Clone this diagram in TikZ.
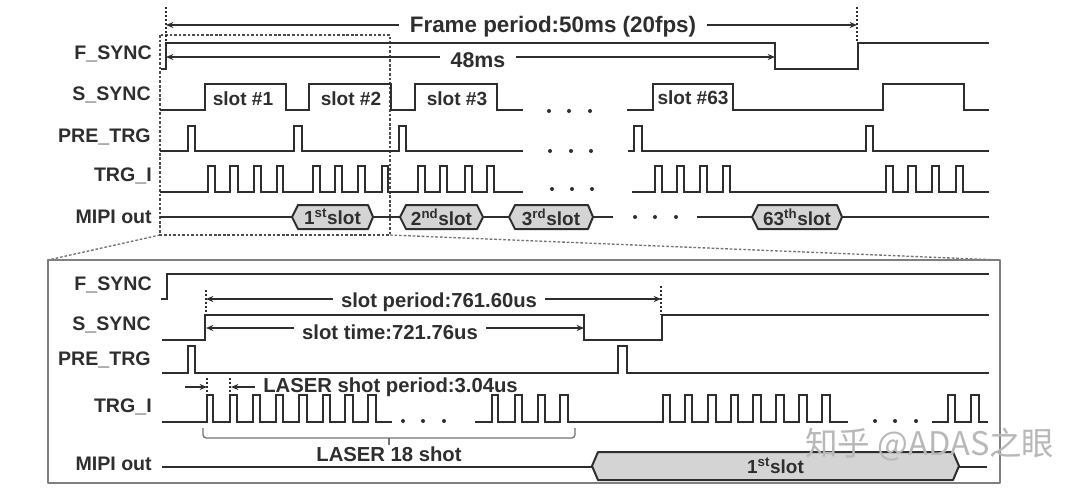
\documentclass[tikz,border=0pt]{standalone}
\usepackage{fontspec}
\setmainfont{Liberation Sans}
\newfontfamily\cjkwm{Noto Sans CJK SC}
\usetikzlibrary{arrows.meta}
\definecolor{ink}{HTML}{2E2E2E}
\newcommand{\hexa}[8]{%
  \path[hexshape] (#2,{(#6+#7)/2}) -- (#3,#6) -- (#4,#6) -- (#5,{(#6+#7)/2}) -- (#4,#7) -- (#3,#7) -- cycle;
  \node[hextext] (#1) at ({(#2+#5)/2},{(#6+#7)/2}) {#8};%
}
\tikzset{
  x=0.75pt,y=-0.75pt,
  wave/.style={draw=ink,line width=1.6pt,line join=miter},
  thinwave/.style={draw=ink,line width=1.25pt},
  hexshape/.style={draw=ink,line width=1.5pt,fill=black!17,line join=round},
  hextext/.style={text=ink,font=\bfseries\fontsize{14.2pt}{16pt}\selectfont,inner sep=0pt},
  siglabel/.style={text=ink,font=\bfseries\fontsize{14.7pt}{16pt}\selectfont,anchor=east,inner sep=0pt},
  slotlabel/.style={text=ink,font=\bfseries\fontsize{14.3pt}{16pt}\selectfont,inner sep=0pt},
  dimlabel/.style={text=ink,font=\bfseries\fontsize{15.2pt}{17pt}\selectfont,inner ysep=0pt,inner xsep=6pt},
  dimline/.style={draw=ink,line width=1.1pt,-{Stealth[length=5.5pt,width=4.5pt]}},
  vdot/.style={draw=ink,line width=0.9pt,dash pattern=on 1.5pt off 1.5pt},
  zoombox/.style={draw=black!70,line width=0.9pt,dash pattern=on 2pt off 1.4pt},
  zoomray/.style={draw=black!55,line width=1pt,dash pattern=on 2pt off 1.4pt},
  dotdot/.style={fill=ink,inner sep=0pt,minimum size=3pt,circle},
  bracket/.style={draw=black!55,line width=1pt,rounded corners=2.5pt},
}
\begin{document}
\begin{tikzpicture}
\useasboundingbox[fill=white] (0,0) rectangle (1080,490);

% --- upper panel: dashed selection and rays to the detail panel
\coordinate (selTL) at (160,35);
\coordinate (selBR) at (390,235);
\coordinate (selBL) at (160,235);
\coordinate (detTL) at (48,260);
\coordinate (detBR) at (1000,483);
\coordinate (detTR) at (1000,260);
\draw[zoomray] (selBL) -- (detTL);
\draw[zoomray] (selBR) -- (detTR);
\draw[draw=black!50,line width=1.4pt,line join=round] (detTL) rectangle (detBR);
\draw[zoombox] (selTL) rectangle (selBR);

% --- upper labels
\node[siglabel] (uF) at (152,54) {F\_SYNC};
\node[siglabel] (uS) at (151,95) {S\_SYNC};
\node[siglabel] (uP) at (151,137) {PRE\_TRG};
\node[siglabel] (uT) at (152,176) {TRG\_I};
\node[siglabel] (uM) at (152,217) {MIPI out};

% --- frame period
\coordinate (frL) at (166,25);
\coordinate (frR) at (857,25);
\draw[vdot] (166,7) -- (166,68);
\draw[vdot] (857,7) -- (857,43);
\node[dimlabel,inner xsep=8pt,font=\bfseries\fontsize{16.8pt}{18pt}\selectfont] (frame) at (553,27) {Frame period:50ms (20fps)};
\draw[dimline] (frame.west |- frL) -- (frL);
\draw[dimline] (frame.east |- frR) -- (frR);

% --- 48 ms
\coordinate (msL) at (166,57);
\coordinate (msR) at (775,57);
\node[dimlabel,inner xsep=8pt,font=\bfseries\fontsize{16pt}{18pt}\selectfont] (ms) at (478,60) {48ms};
\draw[dimline] (ms.west |- msL) -- (msL);
\draw[dimline] (ms.east |- msR) -- (msR);

% --- upper waveforms
\draw[wave] (161,69) -| (166,43) -| (775,69) -| (858,43) -- (989,43);
\draw[wave] (160,110) -| (205,84) -| (286,110) -| (309,84) -| (391,110) -| (415,84) -| (497,110) -- (523,110);
\draw[wave] (627,110) -| (653,84) -| (733,110) -| (883,84) -| (964,110) -- (989,110);
\draw[wave] (160,151) -| (188,126) -| (195,151) -| (294,126) -| (302,151) -| (399,126) -| (406,151) -- (523,151);
\draw[wave] (628,151) -| (634,126) -| (642,151) -| (866,126) -| (873,151) -- (989,151);
\draw[wave] (160,192) foreach \a/\b in {208/215,230/238,254/261,277/283,313/320,335/342,358/365,382/388,418/425,440/447,465/472,487/494} { -| (\a,166) -| (\b,192) } -- (523,192);
\draw[wave] (632,192) foreach \a/\b in {655/662,677/684,700/707,723/730,886/893,908/916,932/939,956/963} { -| (\a,166) -| (\b,192) } -- (989,192);

\node[slotlabel] (s1) at (243,99) {slot \#1};
\node[slotlabel] (s2) at (351,99) {slot \#2};
\node[slotlabel] (s3) at (457,99) {slot \#3};
\node[slotlabel] (s63) at (693,98) {slot \#63};

% --- upper MIPI
\hexa{h1}{292}{298}{368}{373}{205}{229}{1\textsuperscript{st}slot}
\hexa{h2}{400}{406}{477}{483}{205}{229}{2\textsuperscript{nd}slot}
\hexa{h3}{509}{515}{588}{593}{205}{229}{3\textsuperscript{rd}slot}
\hexa{h63}{752}{758}{837}{842}{205}{229}{63\textsuperscript{th}slot}
\coordinate (mipiA) at (160,217);
\coordinate (mipiB) at (613,217);
\coordinate (mipiC) at (697,217);
\coordinate (mipiD) at (989,217);
\coordinate (h1L) at (292,217);
\coordinate (h1R) at (373,217);
\coordinate (h2L) at (400,217);
\coordinate (h2R) at (483,217);
\coordinate (h3L) at (509,217);
\coordinate (h3R) at (593,217);
\coordinate (h63L) at (752,217);
\coordinate (h63R) at (842,217);
\draw[wave] (mipiA) -- (h1L);
\draw[thinwave] (h1R) -- (h2L);
\draw[thinwave] (h2R) -- (h3L);
\draw[wave] (h3R) -- (mipiB);
\draw[wave] (mipiC) -- (h63L);
\draw[wave] (h63R) -- (mipiD);

% --- upper ellipsis dots
\foreach \n/\px/\py in {a/549/111,b/569/111,c/590/111,d/550/151,e/571/151,f/591/151,g/552/189,h/572/189,i/592/189,j/635/217,k/655/217,l/676/217}
  \node[dotdot] (dot\n) at (\px,\py) {};

% --- lower labels
\node[siglabel] (lF) at (152,285) {F\_SYNC};
\node[siglabel] (lS) at (151,325) {S\_SYNC};
\node[siglabel] (lP) at (151,360) {PRE\_TRG};
\node[siglabel] (lT) at (152,407) {TRG\_I};
\node[siglabel] (lM) at (152,464) {MIPI out};

% --- lower waveforms
\draw[wave] (161,299) -| (167,274) -- (989,274);
\draw[wave] (162,340) -| (205,315) -| (584,340) -| (662,315) -- (989,315);
\draw[wave] (162,373) -| (188,346) -| (195,373) -| (618,346) -| (627,373) -- (989,373);
\draw[wave] (162,422) foreach \a/\b in {207/213,230/237,253/260,276/283,299/307,323/330,345/353,368/376} { -| (\a,395) -| (\b,422) } -- (392,422);
\draw[wave] (475,422) foreach \a/\b in {492/498,515/522,538/545,560/568,663/670,685/692,708/716,731/738,753/761,776/784,799/807,822/830} { -| (\a,395) -| (\b,422) } -- (848,422);
\draw[wave] (932,422) foreach \a/\b in {948/955,971/979} { -| (\a,395) -| (\b,422) } -- (988,422);
\foreach \n/\px in {a/403,b/423,c/444,d/875,e/895,f/916}
  \node[dotdot] (ldot\n) at (\px,421) {};

% --- slot period / slot time
\draw[vdot] (206,290) -- (206,315);
\draw[vdot] (661,286) -- (661,315);
\coordinate (spL) at (206,299);
\coordinate (spR) at (661,299);
\node[dimlabel] (sp) at (439,302) {slot period:761.60us};
\draw[dimline] (sp.west |- spL) -- (spL);
\draw[dimline] (sp.east |- spR) -- (spR);
\coordinate (stL) at (206,328);
\coordinate (stR) at (584,328);
\node[dimlabel] (st) at (390,332) {slot time:721.76us};
\draw[dimline] (st.west |- stL) -- (stL);
\draw[dimline] (st.east |- stR) -- (stR);

% --- laser shot period
\draw[vdot] (207,378) -- (207,395);
\draw[vdot] (230,378) -- (230,395);
\coordinate (lsA) at (185,387);
\coordinate (lsB) at (207,387);
\coordinate (lsC) at (255,387);
\coordinate (lsD) at (231,387);
\draw[dimline,line width=1.4pt] (lsA) -- (lsB);
\draw[dimline,line width=1.4pt] (lsC) -- (lsD);
\node[dimlabel,inner sep=0pt,anchor=west] (lsp) at (263,387) {LASER shot period:3.04us};

% --- 18 shot bracket
\coordinate (brA) at (203,428);
\coordinate (brB) at (575,428);
\coordinate (brC) at (575,438);
\coordinate (brM) at (389,438);
\coordinate (brT) at (389,445);
\draw[bracket] (brA) |- (brC) -- (brB);
\draw[bracket,rounded corners=0pt] (brM) -- (brT);
\node[dimlabel,inner sep=0pt] (shot) at (389,454) {LASER 18 shot};

% --- lower MIPI
\hexa{hl}{592}{598}{953}{959}{452}{480}{1\textsuperscript{st}slot}
\coordinate (lmA) at (162,467);
\coordinate (lmB) at (592,467);
\coordinate (lmC) at (959,467);
\coordinate (lmD) at (987,467);
\draw[wave,line width=1.2pt] (lmA) -- (lmB);
\draw[wave] (lmC) -- (lmD);

% --- watermark
\node[text=black!28,font=\cjkwm\fontsize{24.4pt}{26pt}\selectfont,inner sep=0pt,anchor=west] (wm) at (805,445) {知乎 @ADAS之眼};
\end{tikzpicture}
\end{document}
